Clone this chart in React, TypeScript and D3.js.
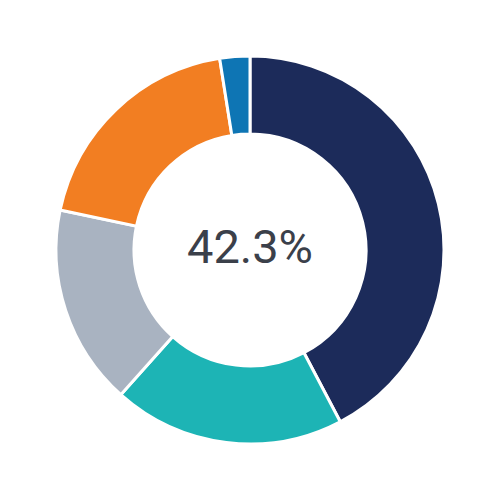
import * as d3 from "d3";

const width = 500;
const height = 500;

const categories = ["A", "B", "C", "D", "E"];
const values = [42.3, 19.3, 16.7, 19.2, 2.5];
const colors = ["#1c2b5a", "#1db4b5", "#a9b3c1", "#f27e22", "#0e75b4"];
const centerLabel = "42.3%";

const outerRadius = 194;
const innerRadius = 116;

export default function App() {
  const pie = d3
    .pie<number>()
    .sort(null)
    .value((d) => d);
  const arcs = pie(values);
  const arc = d3
    .arc<d3.PieArcDatum<number>>()
    .innerRadius(innerRadius)
    .outerRadius(outerRadius);

  return (
    <svg
      width={width}
      height={height}
      style={{ position: "absolute", left: 0, top: 0 }}
    >
      <rect width={width} height={height} fill="#ffffff" />
      <g transform={`translate(${width / 2}, ${height / 2})`}>
        {arcs.map((a, i) => (
          <path
            key={categories[i]}
            d={arc(a) ?? ""}
            fill={colors[i]}
            stroke="#ffffff"
            strokeWidth={3}
          />
        ))}
        <text
          y={13}
          textAnchor="middle"
          fill="#3b404a"
          style={{ fontFamily: "Roboto, sans-serif", fontSize: 47, fontWeight: 400 }}
        >
          {centerLabel}
        </text>
      </g>
    </svg>
  );
}
